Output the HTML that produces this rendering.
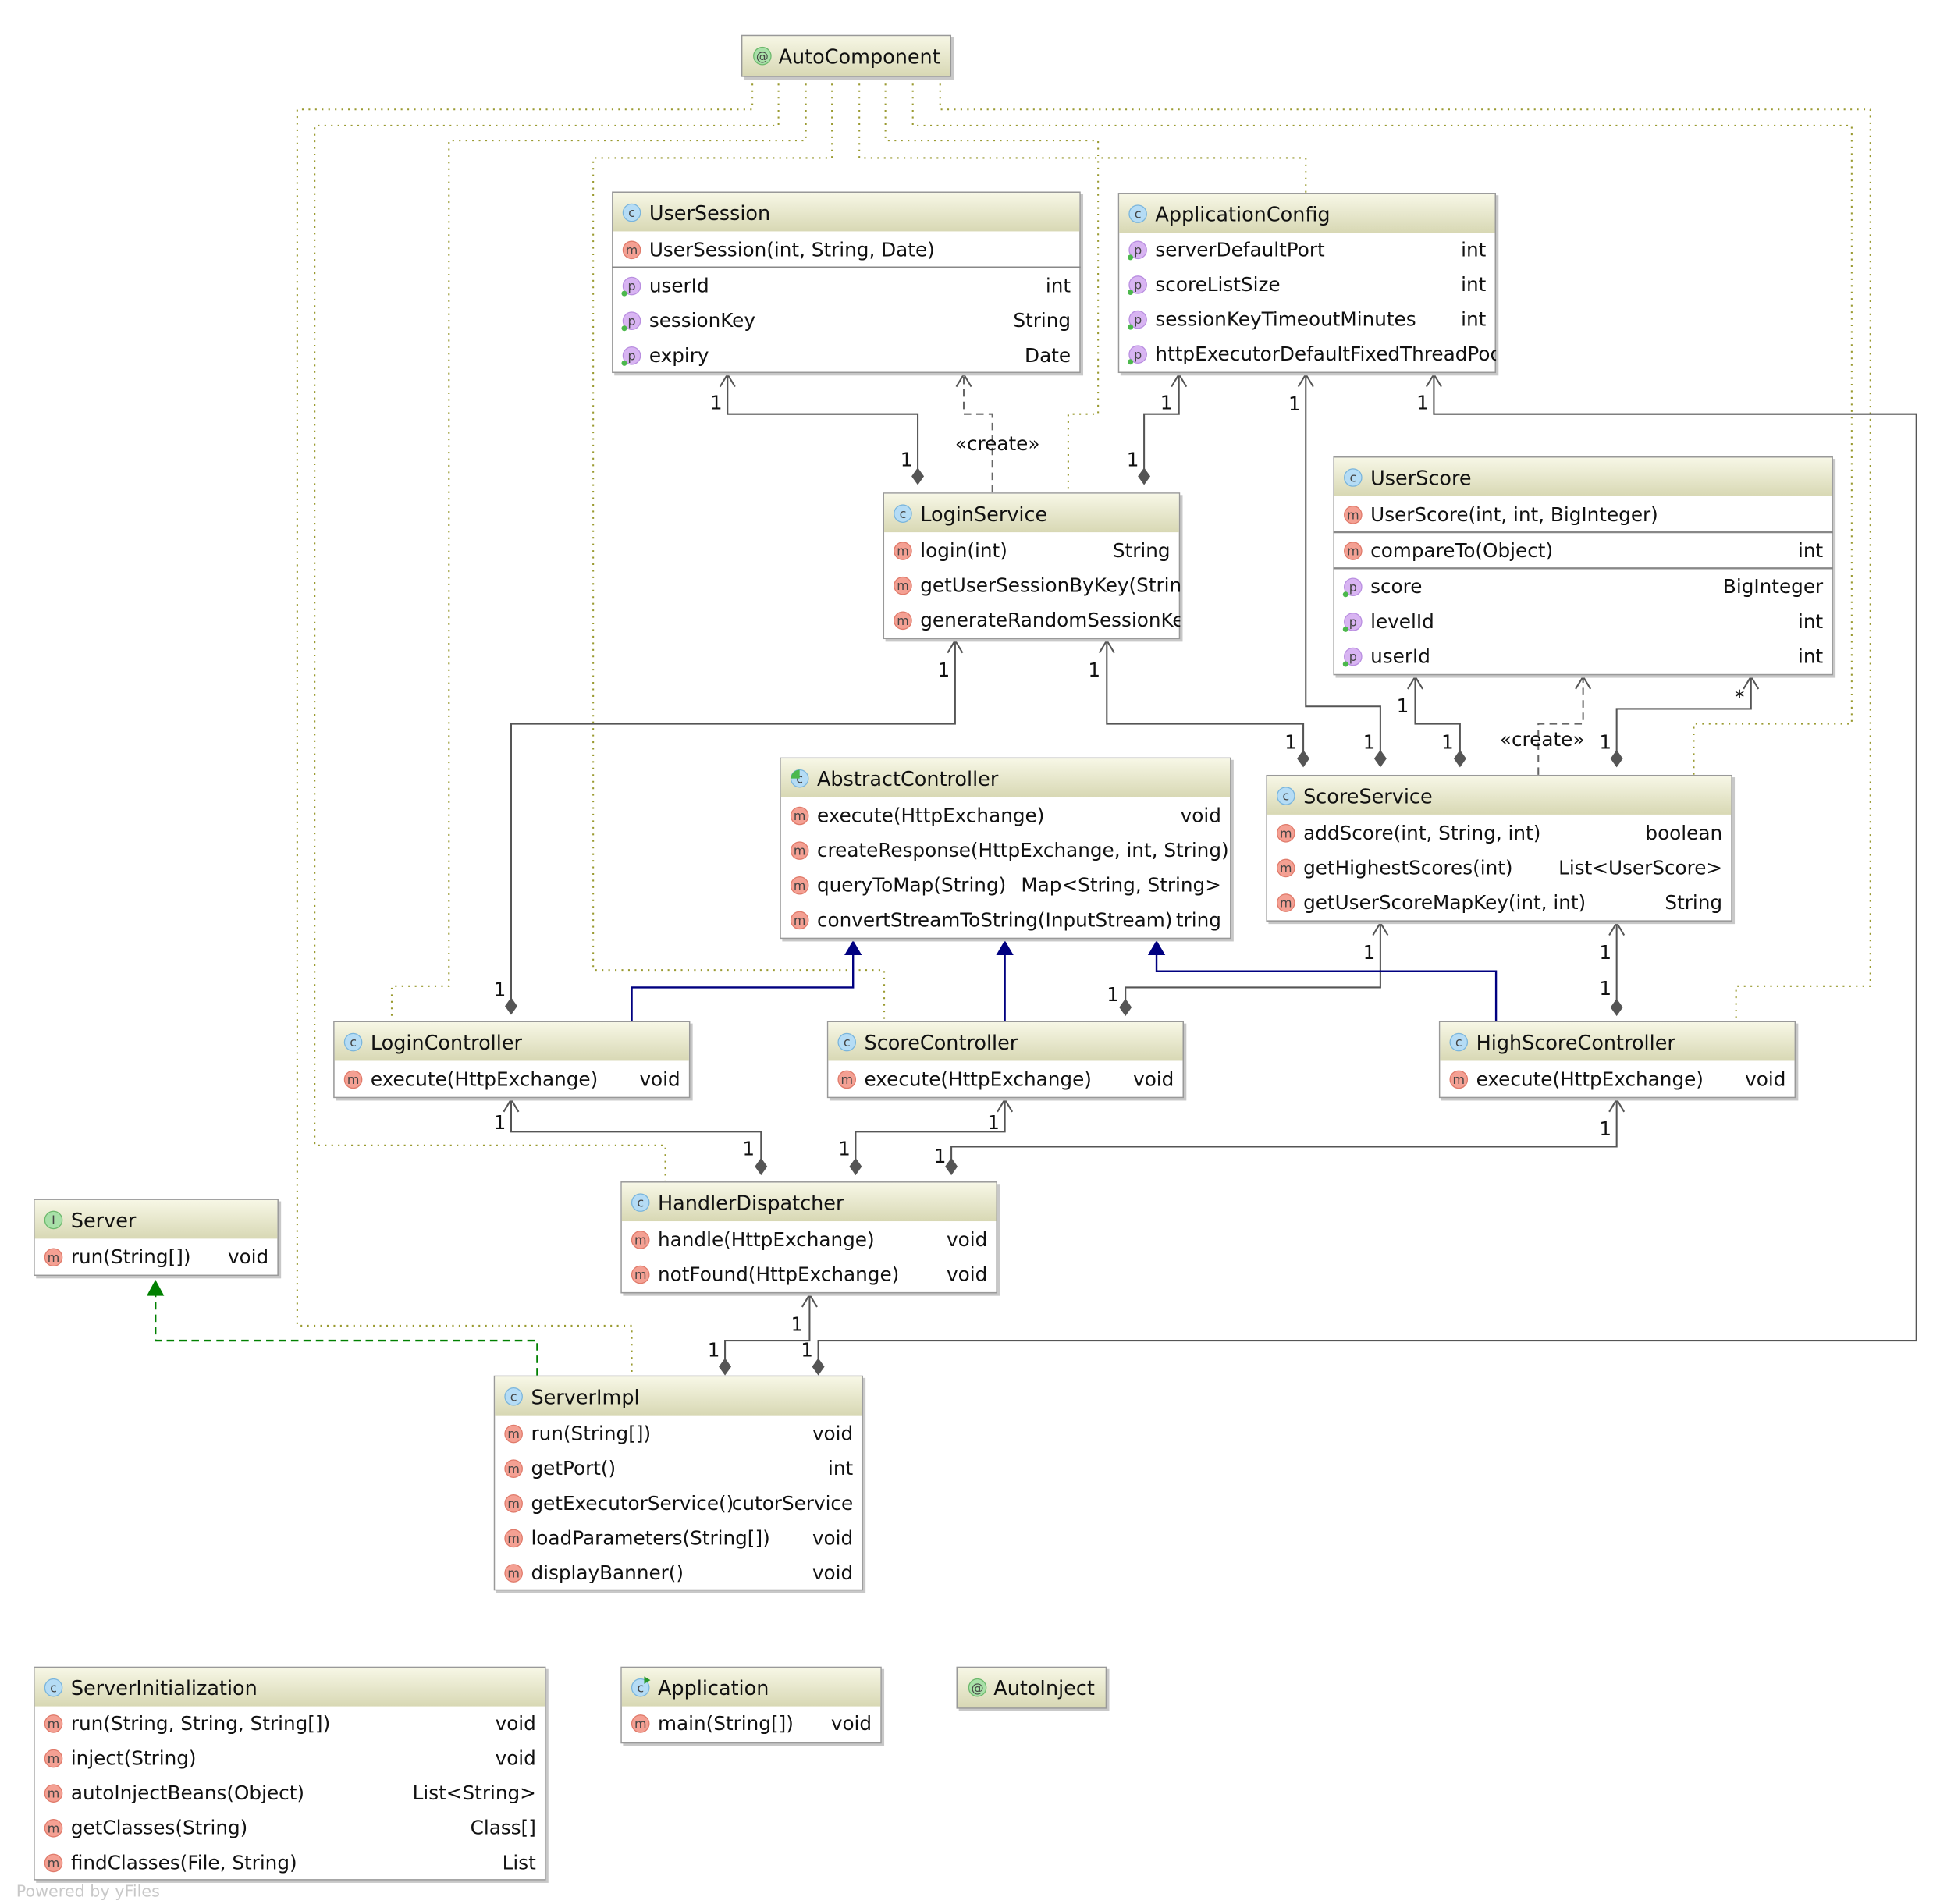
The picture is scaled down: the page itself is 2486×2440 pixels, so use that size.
<!DOCTYPE html>
<html><head><meta charset="utf-8"><style>
html,body{margin:0;padding:0;background:#fff;}
svg{display:block;}
text{font-family:"DejaVu Sans","Liberation Sans",sans-serif;font-size:15.5px;fill:#111;}
.t{font-size:16px;}
.ic{font-size:10px;text-anchor:middle;fill:#444;}
.r{text-anchor:end;}
.l{font-size:13px;}
.c{stroke:#555;stroke-width:1.3;fill:none;}
.d{stroke:#666;stroke-width:1.3;fill:none;stroke-dasharray:6,4;}
.o{stroke:#9a9a30;stroke-width:1.3;fill:none;stroke-dasharray:1.3,4;}
.n{stroke:#000080;stroke-width:1.5;fill:none;}
</style></head><body>
<svg width="2486" height="2440" viewBox="0 0 1560 1531" preserveAspectRatio="none" xmlns="http://www.w3.org/2000/svg">
<defs>
<linearGradient id="hg" x1="0" y1="0" x2="0" y2="1"><stop offset="0" stop-color="#f7f7e6"/><stop offset="1" stop-color="#d8d8b4"/></linearGradient>
<g id="im"><circle r="7" fill="#f4a093" stroke="#e07a6a" stroke-width="0.8"/><text class="ic" y="3.5">m</text></g>
<g id="ip"><circle r="7" fill="#d8b4f2" stroke="#b98ee0" stroke-width="0.8"/><text class="ic" y="3.5">p</text><circle cx="-6" cy="6" r="2.2" fill="#4cb84c"/></g>
<g id="ic"><circle r="7" fill="#b5dcf5" stroke="#7ab5dc" stroke-width="0.8"/><text class="ic" y="3.5">c</text></g>
<g id="ia"><circle r="7" fill="#a8e0a8" stroke="#6cb86c" stroke-width="0.8"/><text class="ic" y="3.5">@</text></g>
<g id="ii"><circle r="7" fill="#a8e0a8" stroke="#6cb86c" stroke-width="0.8"/><text class="ic" y="3.5">I</text></g>
</defs>

<!-- dotted olive connectors -->
<path class="o" d="M605,62 V88 H239 V1066 H508 V1106"/>
<path class="o" d="M626,62 V101 H253 V921 H535 V950"/>
<path class="o" d="M648,62 V113 H361 V793 H315 V821"/>
<path class="o" d="M669,62 V127 H477 V780 H711 V821"/>
<path class="o" d="M691,62 V127 H1050 V155"/>
<path class="o" d="M712,62 V113 H883 V333 H859 V396"/>
<path class="o" d="M734,62 V101 H1489 V582 H1362 V623"/>
<path class="o" d="M756,62 V88 H1504 V793 H1396 V821"/>

<!-- solid associations -->
<path class="c" d="M738,384 V333 H585 V301"/>
<path class="c" d="M920,384 V333 H948 V301"/>
<path class="c" d="M411,809 V582 H768 V515"/>
<path class="c" d="M890,515 V582 H1048 V611"/>
<path class="c" d="M1050,301 V568 H1110 V611"/>
<path class="c" d="M1138,544 V582 H1174 V611"/>
<path class="c" d="M1300,611 V570 H1408 V544"/>
<path class="c" d="M1153,301 V333 H1541 V1078 H658 V1094"/>
<path class="c" d="M1110,742 V794 H905 V811"/>
<path class="c" d="M1300,742 V811"/>
<path class="c" d="M411,884 V910 H612 V939"/>
<path class="c" d="M808,884 V910 H688 V939"/>
<path class="c" d="M1300,884 V922 H765 V939"/>
<path class="c" d="M651,1041 V1078 H583 V1094"/>
<path class="d" d="M798,396 V333 H775 V301"/>
<path class="d" d="M1237,623 V582 H1273 V544"/>

<!-- open arrows -->
<g class="c">
<path d="M579,311 L585,301 L591,311"/><path d="M769,311 L775,301 L781,311"/><path d="M942,311 L948,301 L954,311"/>
<path d="M762,525 L768,515 L774,525"/><path d="M884,525 L890,515 L896,525"/><path d="M1044,311 L1050,301 L1056,311"/>
<path d="M1132,554 L1138,544 L1144,554"/><path d="M1267,554 L1273,544 L1279,554"/><path d="M1402,554 L1408,544 L1414,554"/>
<path d="M1147,311 L1153,301 L1159,311"/><path d="M1104,752 L1110,742 L1116,752"/><path d="M1294,752 L1300,742 L1306,752"/>
<path d="M405,894 L411,884 L417,894"/><path d="M802,894 L808,884 L814,894"/><path d="M1294,894 L1300,884 L1306,894"/>
<path d="M645,1051 L651,1041 L657,1051"/>
</g>
<!-- diamonds -->
<g fill="#555">
<path d="M738,376 l5,7 l-5,7 l-5,-7z"/><path d="M920,376 l5,7 l-5,7 l-5,-7z"/>
<path d="M411,802 l5,7 l-5,7 l-5,-7z"/><path d="M1048,603 l5,7 l-5,7 l-5,-7z"/>
<path d="M1110,603 l5,7 l-5,7 l-5,-7z"/><path d="M1174,603 l5,7 l-5,7 l-5,-7z"/>
<path d="M1300,603 l5,7 l-5,7 l-5,-7z"/><path d="M658,1092 l5,7 l-5,7 l-5,-7z"/>
<path d="M583,1092 l5,7 l-5,7 l-5,-7z"/><path d="M905,803 l5,7 l-5,7 l-5,-7z"/>
<path d="M1300,803 l5,7 l-5,7 l-5,-7z"/><path d="M612,931 l5,7 l-5,7 l-5,-7z"/>
<path d="M688,931 l5,7 l-5,7 l-5,-7z"/><path d="M765,931 l5,7 l-5,7 l-5,-7z"/>
</g>
<!-- inheritance -->
<path class="n" d="M508,821 V794 H686 V766"/>
<path class="n" d="M808,821 V766"/>
<path class="n" d="M1203,821 V781 H930 V766"/>
<g fill="#000080"><path d="M679,768 L686,756 L693,768z"/><path d="M801,768 L808,756 L815,768z"/><path d="M923,768 L930,756 L937,768z"/></g>
<path d="M432,1106 V1078 H125 V1040" stroke="#008000" stroke-width="1.5" fill="none" stroke-dasharray="6,4"/>
<path d="M118,1042 L125,1029 L132,1042z" fill="#008000"/>

<!-- labels -->
<g class="l">
<text x="571" y="329">1</text><text x="724" y="375">1</text><text x="768" y="362">«create»</text>
<text x="933" y="329">1</text><text x="906" y="375">1</text>
<text x="754" y="544">1</text><text x="397" y="801">1</text>
<text x="875" y="544">1</text><text x="1033" y="602">1</text>
<text x="1036" y="330">1</text><text x="1096" y="602">1</text>
<text x="1123" y="573">1</text><text x="1159" y="602">1</text>
<text x="1206" y="600">«create»</text>
<text x="1395" y="566">*</text><text x="1286" y="602">1</text>
<text x="1139" y="329">1</text><text x="644" y="1091">1</text>
<text x="1096" y="771">1</text><text x="890" y="805">1</text>
<text x="1286" y="771">1</text><text x="1286" y="800">1</text>
<text x="397" y="908">1</text><text x="597" y="929">1</text>
<text x="794" y="908">1</text><text x="674" y="929">1</text>
<text x="1286" y="913">1</text><text x="751" y="935">1</text>
<text x="636" y="1070">1</text><text x="569" y="1091">1</text>
</g>

<!-- boxes -->
<g fill="#c8c8c8">
<rect x="598" y="30" width="169" height="34"/><rect x="494" y="156" width="377" height="146"/>
<rect x="901" y="157" width="304" height="145"/><rect x="712" y="398" width="239" height="118"/>
<rect x="1074" y="369" width="402" height="176"/><rect x="629" y="611" width="363" height="146"/>
<rect x="1020" y="625" width="375" height="118"/><rect x="270" y="823" width="287" height="62"/>
<rect x="667" y="823" width="287" height="62"/><rect x="1159" y="823" width="287" height="62"/>
<rect x="501" y="952" width="303" height="90"/><rect x="29" y="966" width="197" height="62"/>
<rect x="399" y="1108" width="297" height="173"/><rect x="29" y="1342" width="412" height="172"/>
<rect x="501" y="1342" width="210" height="62"/><rect x="771" y="1342" width="121" height="34"/>
</g>

<!-- AutoComponent -->
<svg x="596" y="28" width="169" height="34"><rect x="0.5" y="0.5" width="168" height="33" fill="url(#hg)" stroke="#999"/><use href="#ia" x="17" y="17"/><text class="t" x="30" y="23">AutoComponent</text></svg>

<!-- UserSession -->
<svg x="492" y="154" width="377" height="146"><rect x="0.5" y="0.5" width="376" height="145" fill="#fff" stroke="#999"/><rect x="1" y="1" width="375" height="31" fill="url(#hg)"/>
<use href="#ic" x="16" y="17"/><text class="t" x="30" y="23">UserSession</text>
<use href="#im" x="16" y="47"/><text x="30" y="52">UserSession(int, String, Date)</text>
<line x1="0" y1="61" x2="377" y2="61" stroke="#888" stroke-width="1.5"/>
<use href="#ip" x="16" y="76"/><text x="30" y="81">userId</text><text class="r" x="369" y="81">int</text>
<use href="#ip" x="16" y="104"/><text x="30" y="109">sessionKey</text><text class="r" x="369" y="109">String</text>
<use href="#ip" x="16" y="132"/><text x="30" y="137">expiry</text><text class="r" x="369" y="137">Date</text></svg>

<!-- ApplicationConfig -->
<svg x="899" y="155" width="304" height="145"><rect x="0.5" y="0.5" width="303" height="144" fill="#fff" stroke="#999"/><rect x="1" y="1" width="302" height="31" fill="url(#hg)"/>
<use href="#ic" x="16" y="17"/><text class="t" x="30" y="23">ApplicationConfig</text>
<use href="#ip" x="16" y="46"/><text x="30" y="51">serverDefaultPort</text><text class="r" x="296" y="51">int</text>
<use href="#ip" x="16" y="74"/><text x="30" y="79">scoreListSize</text><text class="r" x="296" y="79">int</text>
<use href="#ip" x="16" y="102"/><text x="30" y="107">sessionKeyTimeoutMinutes</text><text class="r" x="296" y="107">int</text>
<use href="#ip" x="16" y="130"/><text x="30" y="135">httpExecutorDefaultFixedThreadPool</text></svg>

<!-- LoginService -->
<svg x="710" y="396" width="239" height="118"><rect x="0.5" y="0.5" width="238" height="117" fill="#fff" stroke="#999"/><rect x="1" y="1" width="237" height="31" fill="url(#hg)"/>
<use href="#ic" x="16" y="17"/><text class="t" x="30" y="23">LoginService</text>
<use href="#im" x="16" y="47"/><text x="30" y="52">login(int)</text><text class="r" x="231" y="52">String</text>
<use href="#im" x="16" y="75"/><text x="30" y="80">getUserSessionByKey(String)</text>
<use href="#im" x="16" y="103"/><text x="30" y="108">generateRandomSessionKey()</text></svg>

<!-- UserScore -->
<svg x="1072" y="367" width="402" height="176"><rect x="0.5" y="0.5" width="401" height="175" fill="#fff" stroke="#999"/><rect x="1" y="1" width="400" height="31" fill="url(#hg)"/>
<use href="#ic" x="16" y="17"/><text class="t" x="30" y="23">UserScore</text>
<use href="#im" x="16" y="47"/><text x="30" y="52">UserScore(int, int, BigInteger)</text>
<line x1="0" y1="61" x2="402" y2="61" stroke="#888" stroke-width="1.5"/>
<use href="#im" x="16" y="76"/><text x="30" y="81">compareTo(Object)</text><text class="r" x="394" y="81">int</text>
<line x1="0" y1="90" x2="402" y2="90" stroke="#888" stroke-width="1.5"/>
<use href="#ip" x="16" y="105"/><text x="30" y="110">score</text><text class="r" x="394" y="110">BigInteger</text>
<use href="#ip" x="16" y="133"/><text x="30" y="138">levelId</text><text class="r" x="394" y="138">int</text>
<use href="#ip" x="16" y="161"/><text x="30" y="166">userId</text><text class="r" x="394" y="166">int</text></svg>

<!-- AbstractController -->
<svg x="627" y="609" width="363" height="146"><rect x="0.5" y="0.5" width="362" height="145" fill="#fff" stroke="#999"/><rect x="1" y="1" width="361" height="31" fill="url(#hg)"/>
<use href="#ic" x="16" y="17"/><path d="M16,10 A7,7 0 0 0 9,17 L16,17z" fill="#4cb84c"/><text class="t" x="30" y="23">AbstractController</text>
<use href="#im" x="16" y="47"/><text x="30" y="52">execute(HttpExchange)</text><text class="r" x="355" y="52">void</text>
<use href="#im" x="16" y="75"/><text x="30" y="80">createResponse(HttpExchange, int, String)</text>
<use href="#im" x="16" y="103"/><text x="30" y="108">queryToMap(String)</text><text class="r" x="355" y="108">Map&lt;String, String&gt;</text>
<use href="#im" x="16" y="131"/><text class="r" x="355" y="136">tring</text><text x="30" y="136">convertStreamToString(InputStream)</text></svg>

<!-- ScoreService -->
<svg x="1018" y="623" width="375" height="118"><rect x="0.5" y="0.5" width="374" height="117" fill="#fff" stroke="#999"/><rect x="1" y="1" width="373" height="31" fill="url(#hg)"/>
<use href="#ic" x="16" y="17"/><text class="t" x="30" y="23">ScoreService</text>
<use href="#im" x="16" y="47"/><text x="30" y="52">addScore(int, String, int)</text><text class="r" x="367" y="52">boolean</text>
<use href="#im" x="16" y="75"/><text x="30" y="80">getHighestScores(int)</text><text class="r" x="367" y="80">List&lt;UserScore&gt;</text>
<use href="#im" x="16" y="103"/><text x="30" y="108">getUserScoreMapKey(int, int)</text><text class="r" x="367" y="108">String</text></svg>

<!-- Controllers -->
<svg x="268" y="821" width="287" height="62"><rect x="0.5" y="0.5" width="286" height="61" fill="#fff" stroke="#999"/><rect x="1" y="1" width="285" height="31" fill="url(#hg)"/>
<use href="#ic" x="16" y="17"/><text class="t" x="30" y="23">LoginController</text>
<use href="#im" x="16" y="47"/><text x="30" y="52">execute(HttpExchange)</text><text class="r" x="279" y="52">void</text></svg>
<svg x="665" y="821" width="287" height="62"><rect x="0.5" y="0.5" width="286" height="61" fill="#fff" stroke="#999"/><rect x="1" y="1" width="285" height="31" fill="url(#hg)"/>
<use href="#ic" x="16" y="17"/><text class="t" x="30" y="23">ScoreController</text>
<use href="#im" x="16" y="47"/><text x="30" y="52">execute(HttpExchange)</text><text class="r" x="279" y="52">void</text></svg>
<svg x="1157" y="821" width="287" height="62"><rect x="0.5" y="0.5" width="286" height="61" fill="#fff" stroke="#999"/><rect x="1" y="1" width="285" height="31" fill="url(#hg)"/>
<use href="#ic" x="16" y="17"/><text class="t" x="30" y="23">HighScoreController</text>
<use href="#im" x="16" y="47"/><text x="30" y="52">execute(HttpExchange)</text><text class="r" x="279" y="52">void</text></svg>

<!-- HandlerDispatcher -->
<svg x="499" y="950" width="303" height="90"><rect x="0.5" y="0.5" width="302" height="89" fill="#fff" stroke="#999"/><rect x="1" y="1" width="301" height="31" fill="url(#hg)"/>
<use href="#ic" x="16" y="17"/><text class="t" x="30" y="23">HandlerDispatcher</text>
<use href="#im" x="16" y="47"/><text x="30" y="52">handle(HttpExchange)</text><text class="r" x="295" y="52">void</text>
<use href="#im" x="16" y="75"/><text x="30" y="80">notFound(HttpExchange)</text><text class="r" x="295" y="80">void</text></svg>

<!-- Server -->
<svg x="27" y="964" width="197" height="62"><rect x="0.5" y="0.5" width="196" height="61" fill="#fff" stroke="#999"/><rect x="1" y="1" width="195" height="31" fill="url(#hg)"/>
<use href="#ii" x="16" y="17"/><text class="t" x="30" y="23">Server</text>
<use href="#im" x="16" y="47"/><text x="30" y="52">run(String[])</text><text class="r" x="189" y="52">void</text></svg>

<!-- ServerImpl -->
<svg x="397" y="1106" width="297" height="173"><rect x="0.5" y="0.5" width="296" height="172" fill="#fff" stroke="#999"/><rect x="1" y="1" width="295" height="31" fill="url(#hg)"/>
<use href="#ic" x="16" y="17"/><text class="t" x="30" y="23">ServerImpl</text>
<use href="#im" x="16" y="47"/><text x="30" y="52">run(String[])</text><text class="r" x="289" y="52">void</text>
<use href="#im" x="16" y="75"/><text x="30" y="80">getPort()</text><text class="r" x="289" y="80">int</text>
<use href="#im" x="16" y="103"/><text class="r" x="289" y="108">cutorService</text><text x="30" y="108">getExecutorService()</text>
<use href="#im" x="16" y="131"/><text x="30" y="136">loadParameters(String[])</text><text class="r" x="289" y="136">void</text>
<use href="#im" x="16" y="159"/><text x="30" y="164">displayBanner()</text><text class="r" x="289" y="164">void</text></svg>

<!-- ServerInitialization -->
<svg x="27" y="1340" width="412" height="172"><rect x="0.5" y="0.5" width="411" height="171" fill="#fff" stroke="#999"/><rect x="1" y="1" width="410" height="31" fill="url(#hg)"/>
<use href="#ic" x="16" y="17"/><text class="t" x="30" y="23">ServerInitialization</text>
<use href="#im" x="16" y="46"/><text x="30" y="51">run(String, String, String[])</text><text class="r" x="404" y="51">void</text>
<use href="#im" x="16" y="74"/><text x="30" y="79">inject(String)</text><text class="r" x="404" y="79">void</text>
<use href="#im" x="16" y="102"/><text x="30" y="107">autoInjectBeans(Object)</text><text class="r" x="404" y="107">List&lt;String&gt;</text>
<use href="#im" x="16" y="130"/><text x="30" y="135">getClasses(String)</text><text class="r" x="404" y="135">Class[]</text>
<use href="#im" x="16" y="158"/><text x="30" y="163">findClasses(File, String)</text><text class="r" x="404" y="163">List</text></svg>

<!-- Application -->
<svg x="499" y="1340" width="210" height="62"><rect x="0.5" y="0.5" width="209" height="61" fill="#fff" stroke="#999"/><rect x="1" y="1" width="208" height="31" fill="url(#hg)"/>
<use href="#ic" x="16" y="17"/><path d="M19,8 l5,3 l-5,3z" fill="#2a9a2a"/><text class="t" x="30" y="23">Application</text>
<use href="#im" x="16" y="46"/><text x="30" y="51">main(String[])</text><text class="r" x="202" y="51">void</text></svg>

<!-- AutoInject -->
<svg x="769" y="1340" width="121" height="34"><rect x="0.5" y="0.5" width="120" height="33" fill="url(#hg)" stroke="#999"/><use href="#ia" x="17" y="17"/><text class="t" x="30" y="23">AutoInject</text></svg>

<text x="13" y="1525" style="font-size:13px;fill:#c8c8c8">Powered by yFiles</text>
</svg>
</body></html>
